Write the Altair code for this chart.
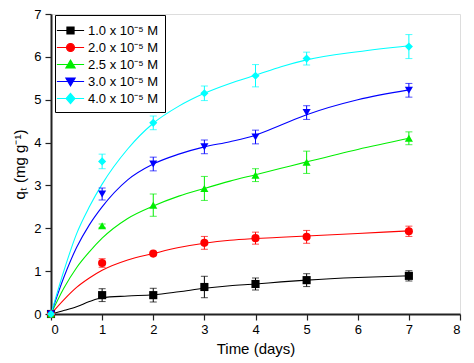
import altair as alt
import pandas as pd

# ---- data ----
series = ["1.0 x 10\u207b\u2075 M", "2.0 x 10\u207b\u2075 M", "2.5 x 10\u207b\u2075 M",
          "3.0 x 10\u207b\u2075 M", "4.0 x 10\u207b\u2075 M"]
colors = ["#000000", "#ff0000", "#00ee00", "#0000ff", "#00ffff"]
shapes = ["square", "circle", "triangle-up", "triangle-down", "diamond"]

days = [0, 1, 2, 3, 4, 5, 7]
q_10 = [0, 0.44, 0.44, 0.63, 0.70, 0.79, 0.89]
q_20 = [0, 1.19, 1.41, 1.66, 1.77, 1.80, 1.93]
q_25 = [0, 2.06, 2.54, 2.93, 3.24, 3.54, 4.10]
q_30 = [0, 2.80, 3.50, 3.90, 4.13, 4.70, 5.22]
q_40 = [0, 3.56, 4.46, 5.15, 5.56, 5.96, 6.24]
e_10 = [0, 0.15, 0.16, 0.25, 0.14, 0.15, 0.12]
e_20 = [0, 0.10, 0.03, 0.15, 0.14, 0.15, 0.12]
e_25 = [0, 0.04, 0.26, 0.28, 0.15, 0.26, 0.15]
e_30 = [0, 0.14, 0.16, 0.16, 0.16, 0.16, 0.16]
e_40 = [0, 0.17, 0.16, 0.17, 0.26, 0.15, 0.28]

t_fit = [0, 0.25, 0.5, 0.75, 1, 1.5, 2, 2.5, 3, 3.5, 4, 4.5, 5, 6, 7]
f_10 = [0, 0.08, 0.17, 0.29, 0.38, 0.42, 0.45, 0.52, 0.60, 0.66, 0.70, 0.75, 0.79, 0.85, 0.89]
f_20 = [0, 0.33, 0.62, 0.84, 1.02, 1.26, 1.41, 1.55, 1.65, 1.72, 1.76, 1.79, 1.82, 1.88, 1.94]
f_25 = [0, 0.60, 1.08, 1.45, 1.77, 2.23, 2.52, 2.75, 2.93, 3.10, 3.25, 3.40, 3.55, 3.84, 4.10]
f_30 = [0, 0.85, 1.55, 2.08, 2.50, 3.13, 3.50, 3.73, 3.90, 4.02, 4.17, 4.41, 4.65, 5.00, 5.23]
f_40 = [0, 1.00, 1.87, 2.50, 3.03, 3.85, 4.45, 4.85, 5.15, 5.38, 5.57, 5.77, 5.93, 6.12, 6.26]

x_ticks = [i / 2 for i in range(0, 17)]
y_ticks = [i / 2 for i in range(0, 15)]

# ---- tables ----
pts = pd.concat([
    pd.DataFrame({"series": s, "marker": m, "day": days, "q": q, "err": e})
    for s, m, q, e in zip(series, shapes, [q_10, q_20, q_25, q_30, q_40],
                          [e_10, e_20, e_25, e_30, e_40])
], ignore_index=True)
pts["lo"] = pts["q"] - pts["err"]
pts["hi"] = pts["q"] + pts["err"]
bars = pts[pts["err"] > 0]
caps = pd.concat([
    bars[["series", "day"]].assign(yc=bars["lo"]),
    bars[["series", "day"]].assign(yc=bars["hi"]),
], ignore_index=True)
fits = pd.concat([
    pd.DataFrame({"series": s, "t": t_fit, "q": f})
    for s, f in zip(series, [f_10, f_20, f_25, f_30, f_40])
], ignore_index=True)

legend_paths = [
    "M-1.6,0H1.6M-0.42,-0.42H0.42V0.42H-0.42Z",
    "M-1.6,0H1.6M0.47,0A0.47,0.47 0 1,1 -0.47,0A0.47,0.47 0 1,1 0.47,0Z",
    "M-1.6,0H1.6M0,-0.52L0.55,0.42H-0.55Z",
    "M-1.6,0H1.6M0,0.52L0.55,-0.42H-0.55Z",
    "M-1.6,0H1.6M0,-0.6L0.52,0L0,0.6L-0.52,0Z",
]

FONT = "Liberation Sans"
AX = "#222222"

xscale = alt.Scale(domain=[0, 8], nice=False)
yscale = alt.Scale(domain=[0, 7], nice=False)
cscale = alt.Scale(domain=series, range=colors)

minor = {"condition": {"test": "datum.value % 1 !== 0", "value": 3}, "value": 6}

xaxis = alt.Axis(values=x_ticks, labelExpr="datum.value % 1 ? '' : datum.label",
                 tickSize=minor, grid=False, domainWidth=2, domainColor=AX,
                 tickColor=AX, tickWidth=1.2, labelFontSize=13, titleFontSize=15,
                 labelFont=FONT, titleFont=FONT, titleFontWeight="normal",
                 labelColor="black", titleColor="black", labelPadding=3,
                 titlePadding=5, labelOverlap=False, title="Time (days)")
yaxis = alt.Axis(values=y_ticks, labelExpr="datum.value % 1 ? '' : datum.label",
                 tickSize=minor, grid=False, domainWidth=2, domainColor=AX,
                 tickColor=AX, tickWidth=1.2, labelFontSize=13, titleFontSize=15,
                 labelFont=FONT, titleFont=FONT, titleFontWeight="normal",
                 labelColor="black", titleColor="black", labelPadding=4,
                 titlePadding=6, labelOverlap=False, title="q\u209c (mg g\u207b\u00b9)")

lines = alt.Chart(fits).mark_line(strokeWidth=1.1, interpolate="monotone").encode(
    x=alt.X("t:Q", scale=xscale, axis=xaxis),
    y=alt.Y("q:Q", scale=yscale, axis=yaxis),
    color=alt.Color("series:N", scale=cscale, legend=None),
    detail="series:N",
)

rules = alt.Chart(bars).mark_rule(strokeWidth=1).encode(
    x="day:Q", y="lo:Q", y2="hi:Q",
    color=alt.Color("series:N", scale=cscale, legend=None),
)

capmarks = alt.Chart(caps).mark_tick(orient="horizontal", size=7, thickness=1).encode(
    x="day:Q", y="yc:Q",
    color=alt.Color("series:N", scale=cscale, legend=None),
)

points = alt.Chart(pts).mark_point(filled=True, opacity=1, size=66).encode(
    x="day:Q", y="q:Q",
    color=alt.Color("series:N", scale=cscale, legend=None),
    shape=alt.Shape("marker:N", scale=None),
)

leg = alt.Legend(orient="none", legendX=4, legendY=1, title=None,
                 strokeColor="black", fillColor="white", padding=6,
                 symbolSize=289, symbolStrokeWidth=1.1, labelOffset=8, rowPadding=0,
                 labelFontSize=13, labelFont=FONT, labelColor="black", cornerRadius=0)

legend_layer = alt.Chart(pts).transform_filter("datum.day < 0").mark_point(
    filled=True, opacity=1, size=289, strokeWidth=1.1
).encode(
    x="day:Q", y="q:Q",
    color=alt.Color("series:N", scale=cscale, legend=leg),
    stroke=alt.Stroke("series:N", scale=cscale, legend=leg),
    shape=alt.Shape("series:N", scale=alt.Scale(domain=series, range=legend_paths), legend=leg),
)

chart = alt.layer(lines, rules, capmarks, points, legend_layer).resolve_legend(
    color="independent", stroke="independent", shape="independent"
).properties(
    width=409, height=300,
    autosize=alt.AutoSizeParams(type="none"),
    padding={"left": 43, "top": 6, "right": 6, "bottom": 48},
).configure_view(stroke=AX, strokeWidth=2).configure(background="white")

chart.save("out.html", embed_options={"renderer": "svg", "actions": False})
